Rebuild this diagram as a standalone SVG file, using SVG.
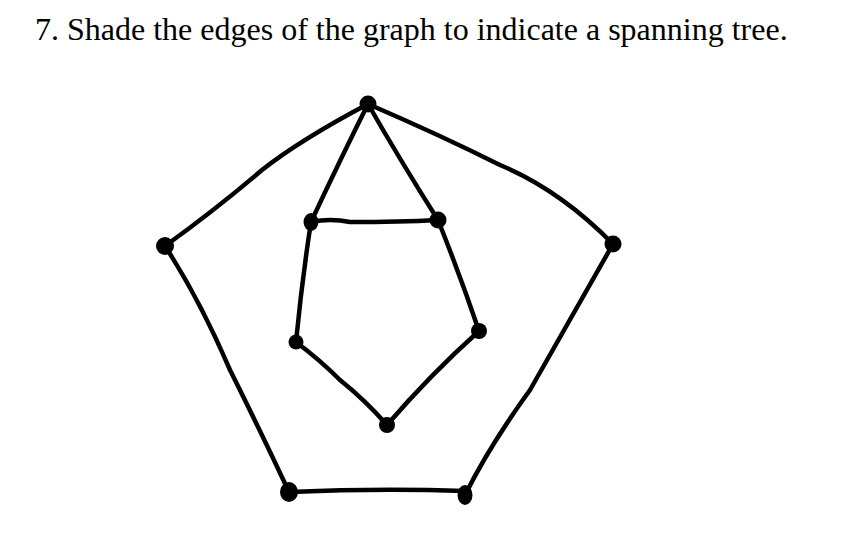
<svg xmlns="http://www.w3.org/2000/svg" width="848" height="546" viewBox="0 0 848 546">
<style>
.e{fill:none;stroke:#000;stroke-width:4.5;stroke-linecap:round;stroke-linejoin:round}
.n{fill:#000}
.t{font-family:"Liberation Serif","Times New Roman",serif;font-size:32px;fill:#000}
</style>
<rect width="848" height="546" fill="#fff"/>
<text class="t" x="35" y="40">7. Shade the edges of the graph to indicate a spanning tree.</text>
<g id="edges">
<path class="e" d="M368,104 Q300,140 262,170 Q215,210 165,246"/>
<path class="e" d="M368,104 Q440,135 500,165 Q560,190 613,244"/>
<path class="e" d="M165,246 Q200,300 230,370 Q260,430 289,492"/>
<path class="e" d="M613,244 Q570,320 530,390 Q490,445 465,495"/>
<path class="e" d="M289,492 Q380,488 465,491"/>
<path class="e" d="M368,104 Q340,160 311,222"/>
<path class="e" d="M368,104 Q400,160 438,220"/>
<path class="e" d="M311,222 Q330,218 350,222 Q400,222 438,220"/>
<path class="e" d="M311,222 Q302,280 296,342"/>
<path class="e" d="M438,220 Q460,275 479,331"/>
<path class="e" d="M296,342 Q320,360 340,380 Q365,400 387,425"/>
<path class="e" d="M479,331 Q430,375 387,425"/>
</g>
<g id="n-top"><circle class="n" cx="368" cy="104" r="8.5"/></g>
<g id="n-left"><circle class="n" cx="165" cy="246" r="9"/></g>
<g id="n-right"><circle class="n" cx="613" cy="244" r="8.5"/></g>
<g id="n-bl"><ellipse class="n" cx="289" cy="492" rx="9" ry="10"/></g>
<g id="n-br"><ellipse class="n" cx="465" cy="495" rx="7.5" ry="10"/></g>
<g id="n-i1"><ellipse class="n" cx="311" cy="222" rx="7.5" ry="9"/></g>
<g id="n-i2"><circle class="n" cx="438" cy="220" r="8.5"/></g>
<g id="n-i3"><circle class="n" cx="296" cy="342" r="7.5"/></g>
<g id="n-i4"><circle class="n" cx="479" cy="331" r="8"/></g>
<g id="n-i5"><circle class="n" cx="387" cy="425" r="8"/></g>
</svg>
